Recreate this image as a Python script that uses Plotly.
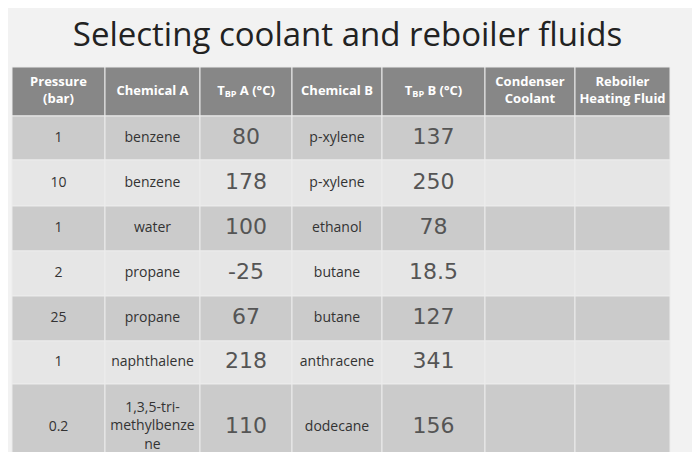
import plotly.graph_objects as go

# Table content
pressure = ["1", "10", "1", "2", "25", "1", "0.2"]
chem_a = ["benzene", "benzene", "water", "propane", "propane", "naphthalene", "1,3,5-tri-<br>methylbenze<br>ne"]
tbp_a = ["80", "178", "100", "-25", "67", "218", "110"]
chem_b = ["p-xylene", "p-xylene", "ethanol", "butane", "butane", "anthracene", "dodecane"]
tbp_b = ["137", "250", "78", "18.5", "127", "341", "156"]

headers = ["<b>Pressure<br>(bar)</b>", "<b>Chemical A</b>", "<b>T<sub>BP</sub> A (°C)</b>", "<b>Chemical B</b>",
           "<b>T<sub>BP</sub> B (°C)</b>", "<b>Condenser<br>Coolant</b>", "<b>Reboiler<br>Heating Fluid</b>"]

# layout grid (pixel space of the reference)
col_edges = [12, 105, 200, 292, 382, 485, 575, 670]
row_edges = [67, 116, 160, 206, 251, 296, 341, 384, 460]

fig = go.Figure()
shapes = []
for r in range(len(row_edges) - 1):
    fill = "#878787" if r == 0 else ("#cbcbcb" if r % 2 == 1 else "#e6e6e6")
    for c in range(len(col_edges) - 1):
        shapes.append(dict(type="rect", x0=col_edges[c], x1=col_edges[c + 1],
                           y0=row_edges[r], y1=row_edges[r + 1], fillcolor=fill,
                           line=dict(color="#ececec", width=1), layer="below"))

xc = [(col_edges[i] + col_edges[i + 1]) / 2 for i in range(len(col_edges) - 1)]
yc = [(row_edges[i] + row_edges[i + 1]) / 2 for i in range(len(row_edges) - 1)]
yc[-1] = 427

fig.add_trace(go.Scatter(x=xc, y=[yc[0]] * 7, text=headers, mode="text",
                         textfont=dict(family="Open Sans", size=13, color="white")))

columns = [pressure, chem_a, tbp_a, chem_b, tbp_b]
for c, vals in enumerate(columns):
    hand = c in (2, 4)
    fig.add_trace(go.Scatter(
        x=[xc[c]] * len(vals), y=yc[1:], text=vals, mode="text",
        textfont=dict(family="DejaVu Sans" if hand else "Open Sans",
                      size=22 if hand else 14,
                      color="#555" if hand else "#333")))

# the page body adds an 8px offset, so the ranges are shifted to compensate
fig.update_xaxes(range=[8, 708], visible=False, fixedrange=True)
fig.update_yaxes(range=[460, 8], visible=False, fixedrange=True)
fig.update_layout(
    width=700, height=452, margin=dict(l=0, r=0, t=0, b=0),
    paper_bgcolor="#f2f2f2", plot_bgcolor="#f2f2f2", showlegend=False,
    shapes=shapes,
    title=dict(text="Selecting coolant and reboiler fluids", x=0.485, y=0.942,
               xanchor="center", yanchor="middle",
               font=dict(family="Open Sans", size=33, color="#222")),
)

fig.write_html("out.html")
